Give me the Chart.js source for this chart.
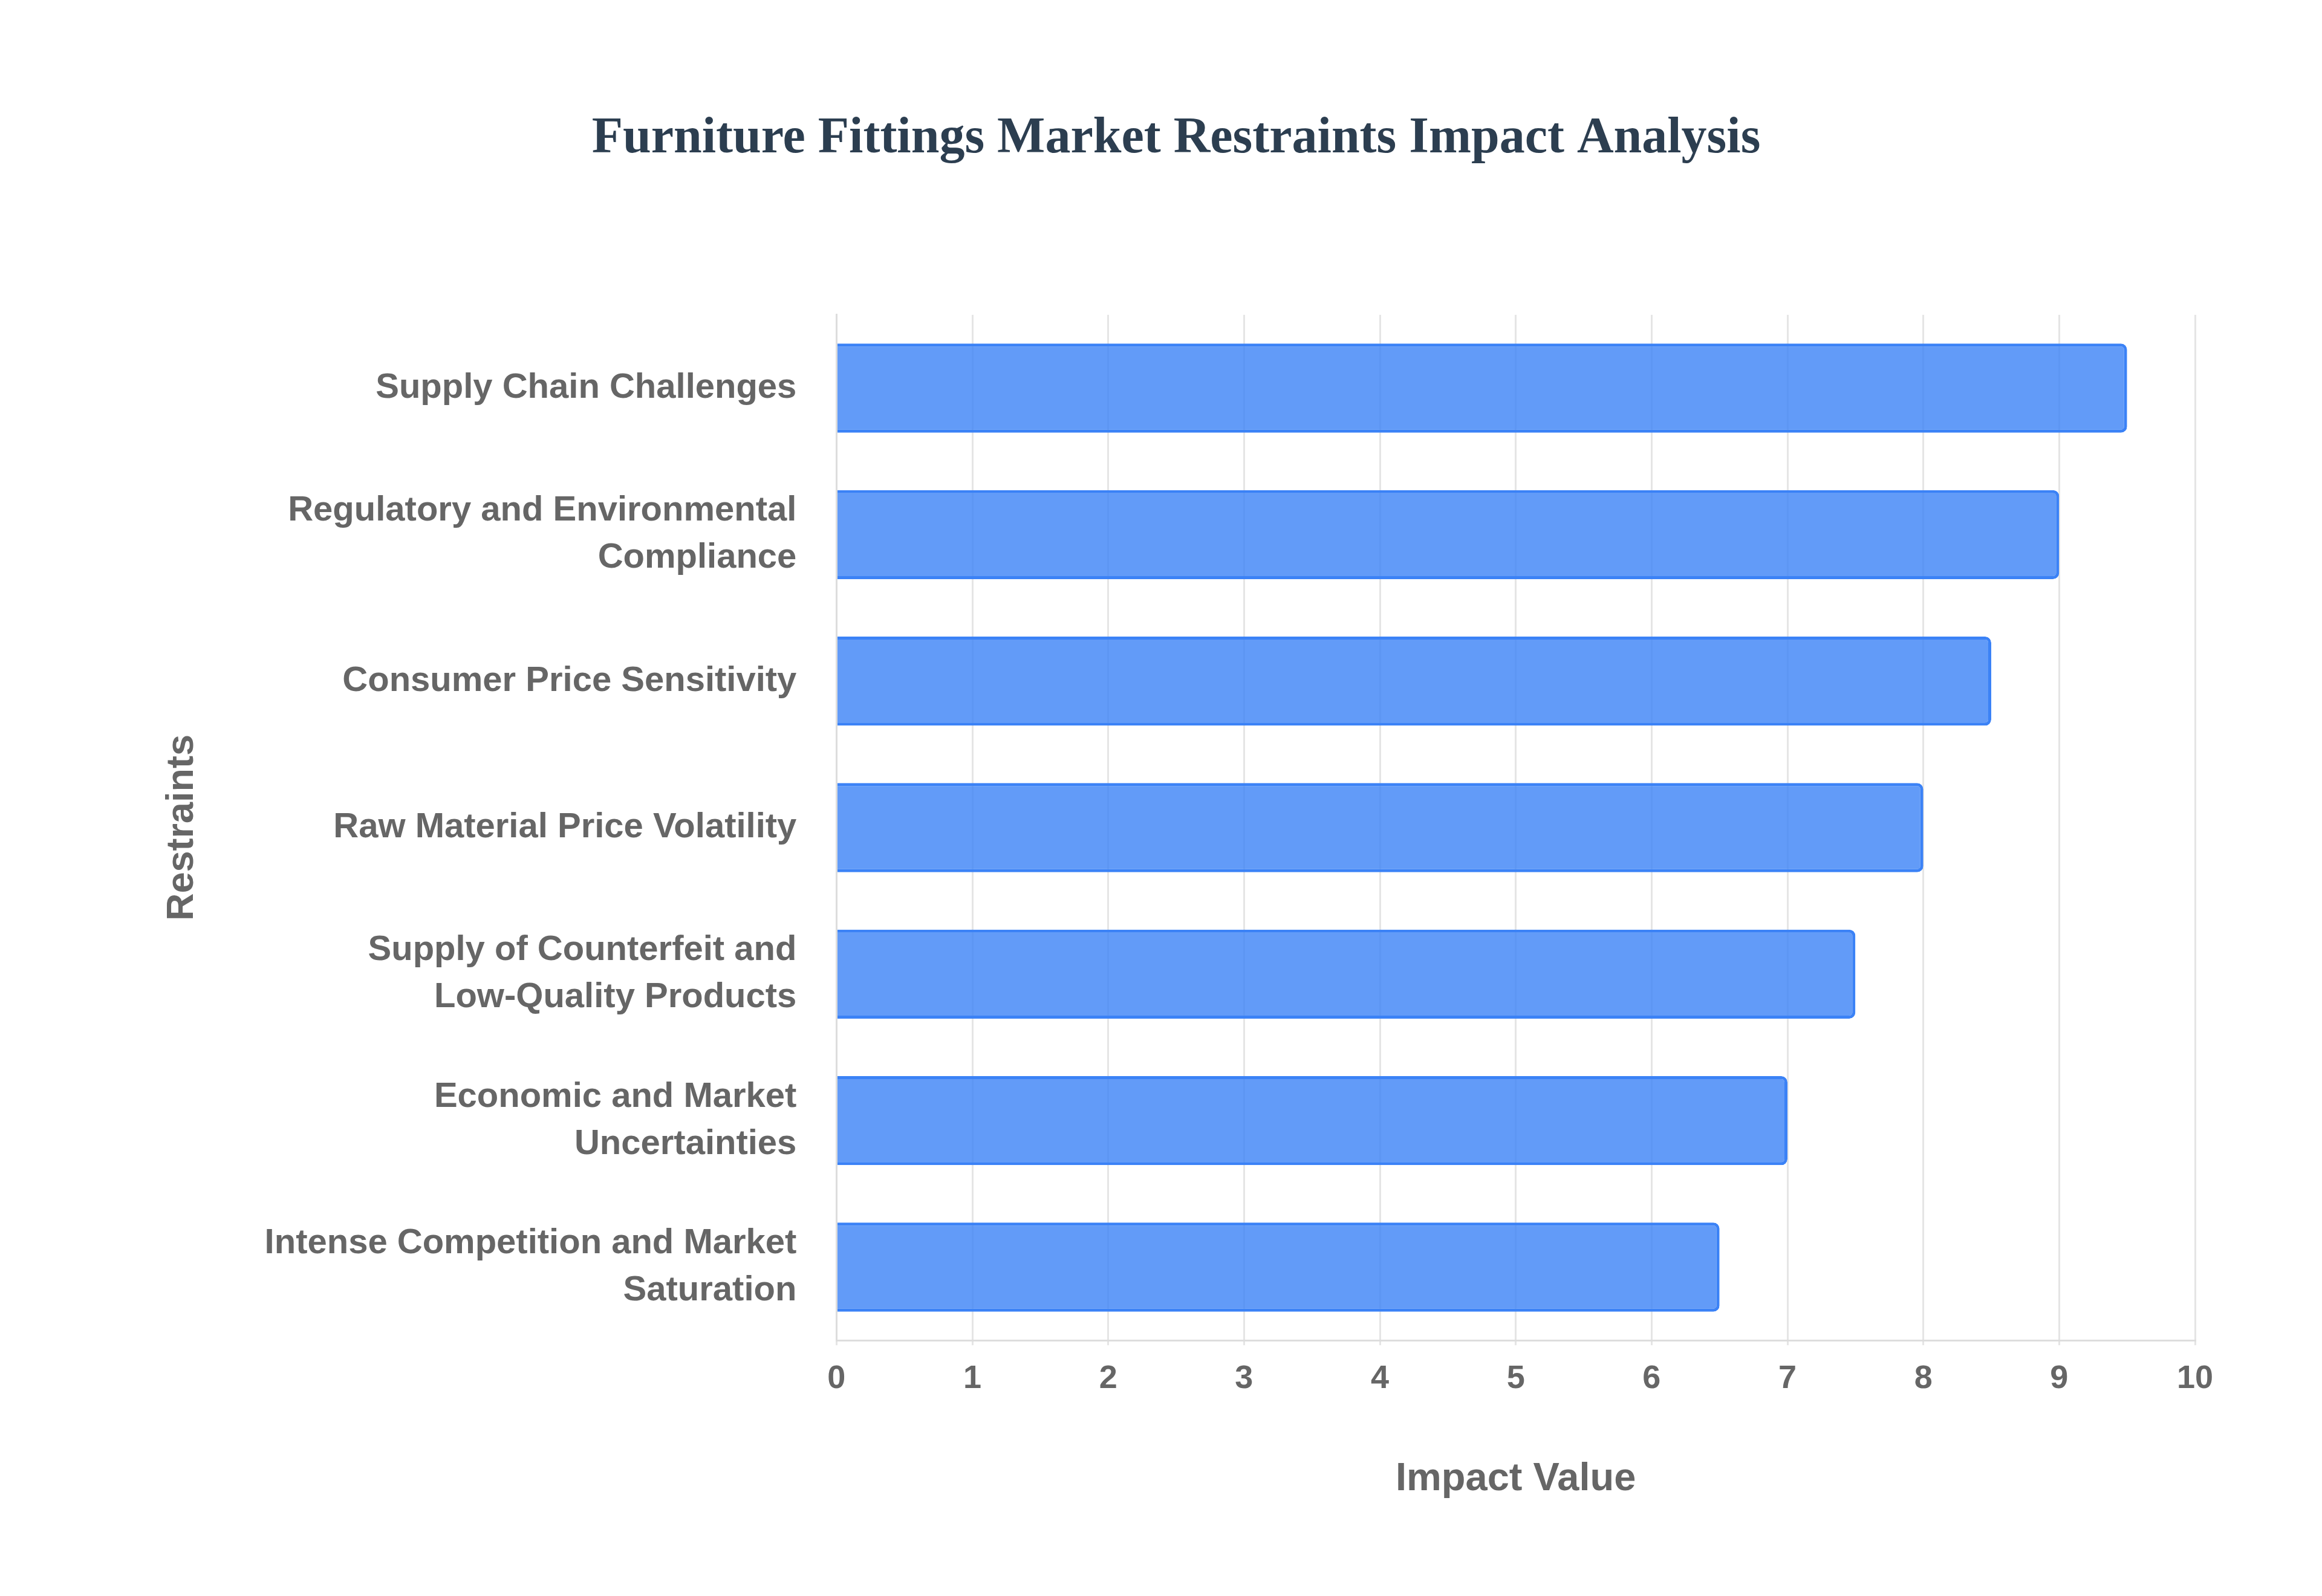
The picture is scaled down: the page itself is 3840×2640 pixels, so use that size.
<!DOCTYPE html>
<html><head><meta charset="utf-8">
<script src="https://cdn.jsdelivr.net/npm/chart.js@4"></script>
<style>html,body{margin:0;background:#fff}#w{width:3840px;height:2640px}</style>
</head><body><div id="w"><canvas id="c" width="3840" height="2640"></canvas></div>
<script>
const categories=[["Supply Chain Challenges"],["Regulatory and Environmental","Compliance"],["Consumer Price Sensitivity"],["Raw Material Price Volatility"],["Supply of Counterfeit and","Low-Quality Products"],["Economic and Market","Uncertainties"],["Intense Competition and Market","Saturation"]];
const values=[9.5,9.0,8.5,8.0,7.5,7.0,6.5];
const xTicks=[0,1,2,3,4,5,6,7,8,9,10];
new Chart(document.getElementById('c'),{type:'bar',
data:{labels:categories,datasets:[{data:values,backgroundColor:'rgba(59,130,246,0.8)',borderColor:'#3b82f6',borderWidth:5,borderRadius:10,borderSkipped:'start',categoryPercentage:0.8,barPercentage:0.76}]},
options:{indexAxis:'y',responsive:false,animation:false,devicePixelRatio:1,
layout:{padding:{left:260,right:210,top:30,bottom:150}},
plugins:{legend:{display:false},tooltip:{enabled:false},
title:{display:true,text:'Furniture Fittings Market Restraints Impact Analysis',color:'#2c3e50',font:{family:'Liberation Serif',size:84,weight:'bold'},padding:{top:150,bottom:240}}},
scales:{x:{min:0,max:10,afterBuildTicks:a=>{a.ticks=xTicks.map(v=>({value:v}));},grid:{color:'#e5e5e5',lineWidth:3},border:{color:'#ddd',width:3},
ticks:{color:'#666',font:{family:'Liberation Sans',size:54,weight:'bold'},padding:24},
title:{display:true,text:'Impact Value',color:'#666',font:{family:'Liberation Sans',size:65,weight:'bold'},padding:{top:70}}},
y:{grid:{display:false},border:{color:'#ddd',width:3},ticks:{color:'#666',font:{family:'Liberation Sans',size:58,weight:'bold',lineHeight:1.35},padding:58},
title:{display:true,text:'Restraints',color:'#666',font:{family:'Liberation Sans',size:63,weight:'bold'},padding:{bottom:40}}}}}});
</script></body></html>
